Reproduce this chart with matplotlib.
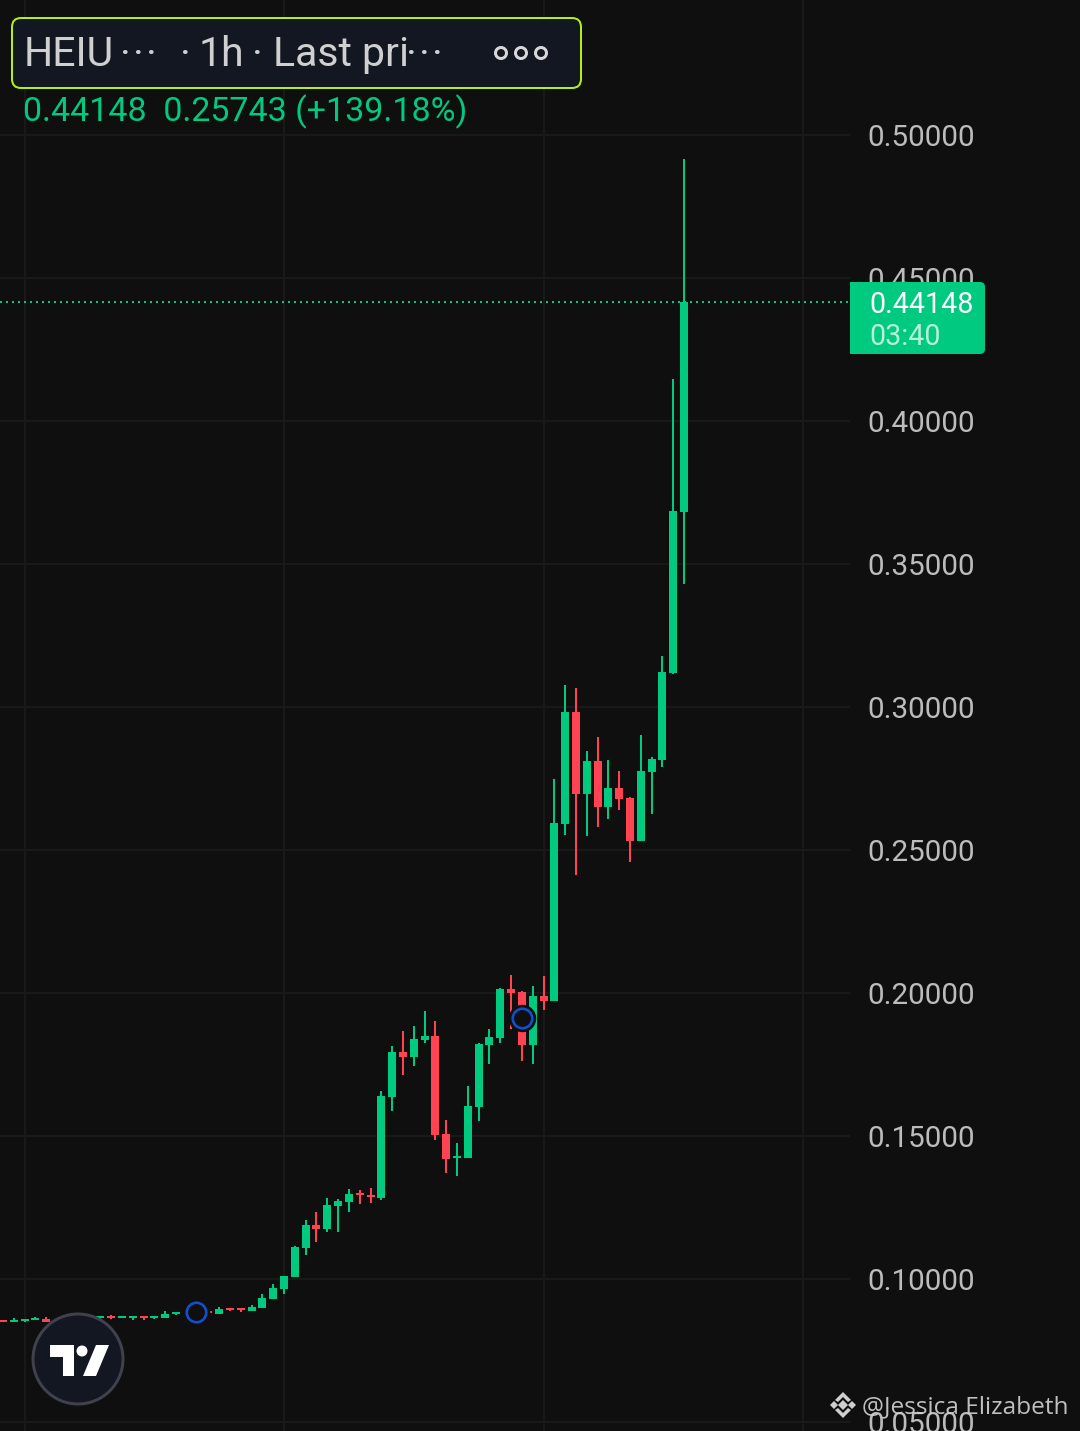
"""
1h candlestick chart, dark theme, phone screenshot layout.
"""
import numpy as np
import matplotlib
matplotlib.use('Agg')
import matplotlib.pyplot as plt
from matplotlib.patches import Circle, FancyBboxPatch, Polygon, Rectangle

opens = [.08566, .08497, .08531, .08566, .08601, .08497, .08497, .08636, .08601, .08636,
         .08706, .08636, .08636, .08706, .08636, .08636, .08776, .08776, .08811, .08881,
         .08776, .08986, .08986, .08881, .08986, .09301, .09650, .10070, .11084, .11888,
         .11748, .12552, .12692, .13007, .12937, .12832, .16364, .17937, .17762, .18357,
         .18497, .15070, .14231, .14231, .16014, .18182, .18427, .20140, .20035, .18182,
         .19895, .19720, .25909, .29825, .26958, .28112, .26503, .27168, .26818, .25315,
         .27727, .28147, .31189, .36818]
highs = [.08566, .08636, .08601, .08671, .08671, .08566, .08636, .08671, .08706, .08706,
         .08741, .08706, .08706, .08706, .08706, .08881, .08846, .08846, .08881, .08881,
         .09021, .08986, .08986, .09091, .09476, .09825, .10105, .11154, .12063, .12343,
         .12832, .12797, .13147, .13112, .13182, .16573, .18147, .18671, .18846, .19371,
         .19021, .15559, .14755, .16748, .18252, .18741, .20175, .20629, .20070, .20245,
         .20594, .27483, .30769, .30664, .28462, .28951, .28147, .27762, .26853, .29021,
         .28252, .31783, .41469, .49161]
lows = [.08497, .08497, .08497, .08566, .08497, .08497, .08497, .08566, .08601, .08566,
        .08601, .08636, .08566, .08566, .08601, .08636, .08741, .08776, .08811, .08811,
        .08776, .08881, .08846, .08881, .08986, .09301, .09476, .10070, .10839, .11294,
        .11643, .11643, .12343, .12622, .12657, .12762, .15874, .17133, .17448, .18252,
        .14860, .13706, .13601, .14231, .15524, .17517, .18252, .18741, .17622, .17517,
        .19406, .19720, .25524, .24126, .25490, .25804, .26084, .26399, .24580, .25315,
        .26259, .27902, .31154, .34301]
closes = [.08497, .08566, .08601, .08636, .08497, .08566, .08601, .08566, .08671, .08706,
          .08636, .08706, .08706, .08636, .08706, .08776, .08846, .08846, .08881, .08811,
          .08951, .08916, .08916, .09021, .09336, .09685, .10105, .11119, .11888, .11748,
          .12587, .12727, .12972, .12937, .12867, .16399, .17937, .17762, .18392, .18497,
          .15035, .14196, .14301, .16049, .18217, .18462, .20140, .20000, .18182, .19895,
          .19720, .25944, .29825, .26958, .28112, .26503, .27168, .26783, .25315, .27762,
          .28182, .31224, .36853, .44148]

price_ticks = [0.05, 0.10, 0.15, 0.20, 0.25, 0.30, 0.35, 0.40, 0.45, 0.50]
time_grid = [2, 26, 50, 74]
marker_idx = [17.9, 48]
marker_price = [.08846, .19126]
last_price = 0.44148

BG = '#0f0f0f'
GRID = '#191919'
UP = '#00c980'
DOWN = '#ff4353'
BLUE = '#0f50d2'
LABEL = '#bcbcbc'
W, H = 1080, 1431
PX = 0.72  # one pixel in points at dpi 100

plt.rcParams['font.family'] = ['Roboto', 'DejaVu Sans']

fig = plt.figure(figsize=(W / 100, H / 100), dpi=100, facecolor=BG)
ax = fig.add_axes([0, 0, 850 / W, 1], facecolor=BG)

x = np.arange(len(opens))
o, h, l, c = map(np.array, (opens, highs, lows, closes))
up = c >= o
colors = np.where(up, UP, DOWN)

ax.vlines(x, l, h, colors=colors, linewidth=2 * PX, zorder=3)
ax.bar(x, np.abs(c - o), bottom=np.minimum(o, c), width=8 / 10.81, color=colors,
       linewidth=0, zorder=4)

ax.axhline(last_price, color=UP, linewidth=2 * PX, linestyle=(0, (1, 2)), zorder=5)

# order markers: dark halo, then the ring
ax.plot(marker_idx, marker_price, 'o', ms=26 * PX, mfc=BG, mec=BG, zorder=6)
ax.plot(marker_idx, marker_price, 'o', ms=19.5 * PX, mfc=BG, mec=BLUE, mew=2.6 * PX, zorder=7)

ax.set_xlim(-3 / 10.81, 847 / 10.81)
ax.set_ylim(0.04685, 0.54720)
ax.set_xticks(time_grid)
ax.set_yticks(price_ticks)
ax.set_yticklabels(['%.5f' % p for p in price_ticks])
ax.yaxis.tick_right()
ax.tick_params(axis='y', length=0, pad=17.5 * PX, labelsize=21.3, labelcolor=LABEL)
ax.tick_params(axis='x', length=0, labelbottom=False)
ax.grid(True, color=GRID, linewidth=2 * PX, zorder=0)
ax.set_axisbelow(True)
for s in ax.spines.values():
    s.set_visible(False)

# overlay in screen pixels for the app chrome
ui = fig.add_axes([0, 0, 1, 1])
ui.set_xlim(0, W)
ui.set_ylim(H, 0)
ui.axis('off')
ui.patch.set_alpha(0)

# header pill
ui.add_patch(FancyBboxPatch((20, 26), 553, 54, boxstyle='round,pad=8,rounding_size=9',
                            fc='#131722', ec='#b4f00f', lw=2 * PX))
HEAD = '#d0d0d0'
ui.text(24, 50, 'HEIU', color=HEAD, fontsize=29.5, va='center_baseline')
ui.text(199, 50, '1h', color=HEAD, fontsize=29.5, va='center_baseline')
ui.text(273, 50, 'Last pri', color=HEAD, fontsize=29.5, va='center_baseline')
# middle dots are spaced wider than the font gives them
for dx in (120, 133, 146, 180, 252, 406, 419, 432):
    ui.text(dx, 50, '\u00b7', color=HEAD, fontsize=29.5, va='center_baseline')
for cx in (501, 521, 541):
    ui.add_patch(Circle((cx, 53), 5.5, fc='none', ec='#d8d8d8', lw=3 * PX))

ui.text(23, 108, '0.44148  0.25743 (+139.18%)', color=UP, fontsize=24.5, va='center_baseline')

# last price tag
ui.add_patch(FancyBboxPatch((856, 288), 123, 60, boxstyle='round,pad=6,rounding_size=5',
                            fc=UP, ec='none'))
ui.add_patch(Rectangle((850, 282), 12, 72, fc=UP, ec='none'))
ui.text(869, 302, '0.44148', color='white', fontsize=20.6, va='center_baseline')
ui.text(869, 334, '03:40', color='#b4f2da', fontsize=20.6, va='center_baseline')

# tradingview badge
ui.add_patch(Circle((78, 1359), 45, fc='#131722', ec='#3f414c', lw=3 * PX))
ui.add_patch(Polygon([(50, 1345), (74, 1345), (74, 1376), (63, 1376), (63, 1357), (50, 1357)],
                     fc='white', ec='none'))
ui.add_patch(Circle((82, 1351), 5.5, fc='white', ec='none'))
ui.add_patch(Polygon([(96, 1345), (109, 1345), (96, 1376), (83, 1376)], fc='white', ec='none'))

# watermark
wm = '#cfcfcf'
ui.text(862, 1404, '@Jessica Elizabeth', color=wm, fontsize=17.6, family=['Open Sans', 'DejaVu Sans'],
        va='center_baseline', alpha=0.92)
ui.add_patch(Polygon([(843, 1400), (848, 1405), (843, 1410), (838, 1405)], fc=wm, ec='none'))
ui.add_patch(Polygon([(834, 1401), (838, 1405), (834, 1409), (830, 1405)], fc=wm, ec='none'))
ui.add_patch(Polygon([(852, 1401), (856, 1405), (852, 1409), (848, 1405)], fc=wm, ec='none'))
ui.add_patch(Polygon([(843, 1392), (851, 1400), (848, 1402), (843, 1397), (838, 1402), (835, 1400)],
                     fc=wm, ec='none'))
ui.add_patch(Polygon([(843, 1418), (851, 1410), (848, 1408), (843, 1413), (838, 1408), (835, 1410)],
                     fc=wm, ec='none'))

fig.savefig('out.png', dpi=100, facecolor=BG)
